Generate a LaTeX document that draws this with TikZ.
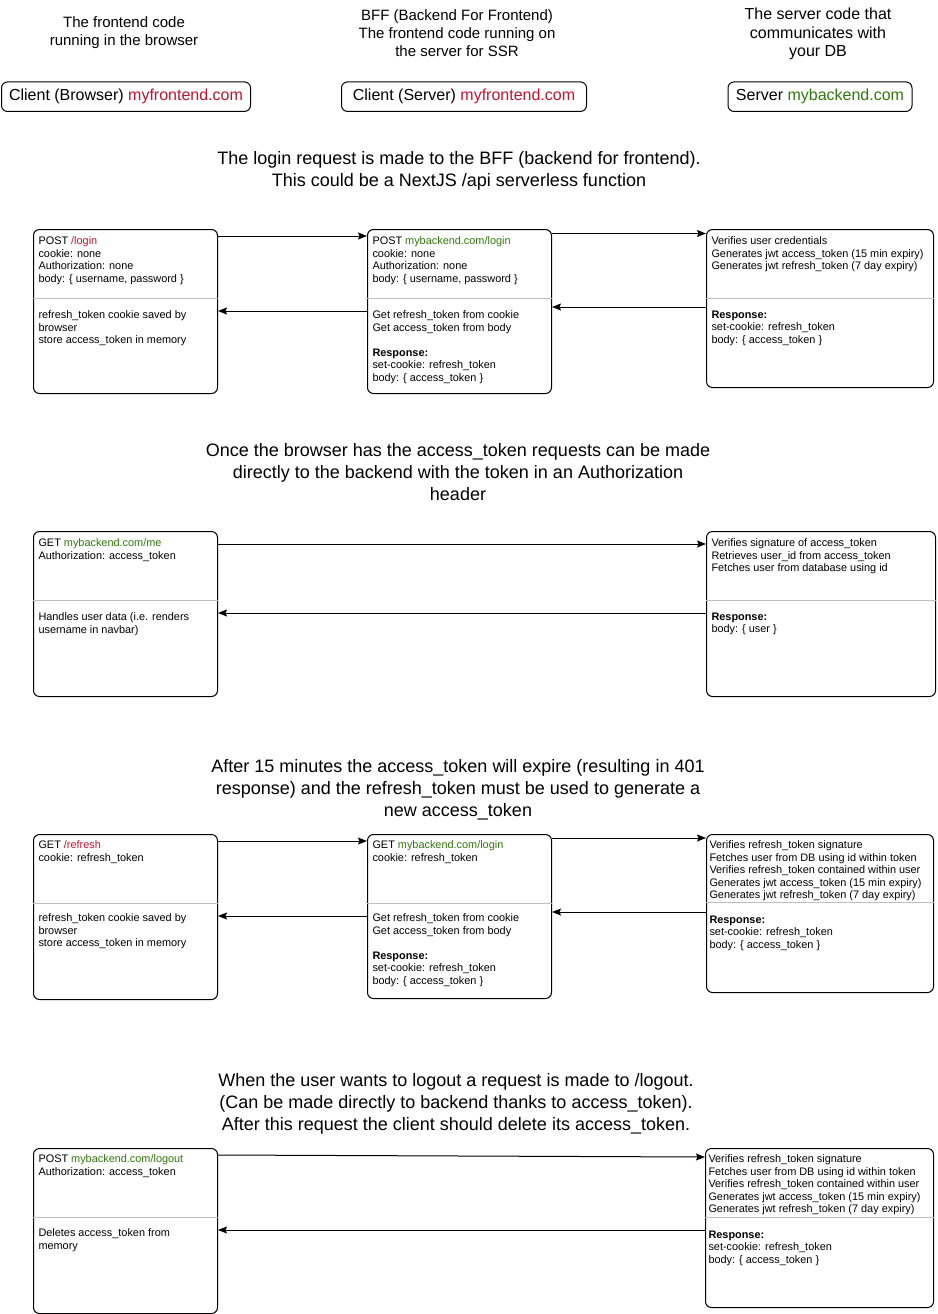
\documentclass[tikz,border=0pt]{standalone}
\usepackage{fontspec}
\setmainfont{Liberation Sans}
\usetikzlibrary{arrows.meta,positioning}
\definecolor{frontred}{HTML}{C4122E}
\definecolor{backgreen}{HTML}{2F7A0A}
\newcommand{\fe}[1]{\textcolor{frontred}{#1}}
\newcommand{\be}[1]{\textcolor{backgreen}{#1}}

\begin{document}
\begin{tikzpicture}[x=1pt,y=-1pt,line width=1pt,
    note/.style={align=center,font=\fontsize{15}{18}\selectfont},
    tag/.style={draw,rounded corners=6pt,minimum height=29.5pt,inner sep=0pt,font=\fontsize{16}{19}\selectfont},
    caption/.style={align=center,font=\fontsize{18}{22}\selectfont},
    card/.style={draw,rounded corners=6pt,anchor=north west,inner sep=0pt},
    body/.style={anchor=north west,align=left,inner sep=0pt,font=\fontsize{10.9}{12.6}\selectfont},
    split/.style={draw=black!25},
    flow/.style={-{Stealth[length=9pt,width=7pt,inset=1.5pt]}}
  ]
  \useasboundingbox (0,0) rectangle (937,1314);

  % column headers
  \node[note] (browserNote) at (124,32.5) {The frontend code\\running in the browser};
  \node[note] (bffNote) at (457,33) {BFF (Backend For Frontend)\\The frontend code running on\\the server for SSR};
  \node[note,font=\fontsize{16}{18.5}\selectfont] (serverNote) at (818,34) {The server code that\\communicates with\\your DB};
  \node[tag,minimum width=249pt] (browserTag) at (126,96.7) {Client (Browser) \fe{myfrontend.com}};
  \node[tag,minimum width=245pt] (bffTag) at (464,96.7) {Client (Server) \fe{myfrontend.com}};
  \node[tag,minimum width=184pt] (serverTag) at (820,96.7) {Server \be{mybackend.com}};

  % login
  \node[caption] (loginText) at (459,171) {The login request is made to the BFF (backend for frontend).\\This could be a NextJS /api serverless function};
  \node[card,minimum width=184pt,minimum height=164pt] (loginClient) at (33,229) {};
  \node[card,minimum width=184pt,minimum height=164pt] (loginBff) at (367,229) {};
  \node[card,minimum width=227pt,minimum height=158pt] (loginServer) at (706,229) {};
  \node[body] (loginClientReq) at ([xshift=5pt,yshift=-7pt]loginClient.north west)
    {POST \fe{/login}\\cookie: none\\Authorization: none\\body: \{ username, password \}};
  \node[body] (loginClientRes) at ([xshift=5pt,yshift=-81pt]loginClient.north west)
    {refresh\_token cookie saved by\\browser\\store access\_token in memory};
  \node[body] (loginBffReq) at ([xshift=5pt,yshift=-7pt]loginBff.north west)
    {POST \be{mybackend.com/login}\\cookie: none\\Authorization: none\\body: \{ username, password \}};
  \node[body] (loginBffRes) at ([xshift=5pt,yshift=-81pt]loginBff.north west)
    {Get refresh\_token from cookie\\Get access\_token from body\\[12.6pt]\textbf{Response:}\\set-cookie: refresh\_token\\body: \{ access\_token \}};
  \node[body] (loginServerReq) at ([xshift=5pt,yshift=-7pt]loginServer.north west)
    {Verifies user credentials\\Generates jwt access\_token (15 min expiry)\\Generates jwt refresh\_token (7 day expiry)};
  \node[body] (loginServerRes) at ([xshift=5pt,yshift=-81pt]loginServer.north west)
    {\textbf{Response:}\\set-cookie: refresh\_token\\body: \{ access\_token \}};
  \draw[flow] ([yshift=-7pt]loginClient.north east) -- ([yshift=-7pt]loginBff.north west);
  \draw[flow] ([yshift=-4.5pt]loginBff.north east) -- ([yshift=-4.5pt]loginServer.north west);
  \draw[flow] ([yshift=-78pt]loginServer.north west) -- ([yshift=-78pt]loginBff.north east);
  \draw[flow] ([yshift=-82pt]loginBff.north west) -- ([yshift=-82pt]loginClient.north east);

  % me
  \node[caption] (meText) at (458,472) {Once the browser has the access\_token requests can be made\\directly to the backend with the token in an Authorization\\header};
  \node[card,minimum width=184pt,minimum height=165pt] (meClient) at (33,531) {};
  \node[card,minimum width=229pt,minimum height=165pt] (meServer) at (706,531) {};
  \node[body] (meClientReq) at ([xshift=5pt,yshift=-7pt]meClient.north west)
    {GET \be{mybackend.com/me}\\Authorization: access\_token};
  \node[body] (meClientRes) at ([xshift=5pt,yshift=-81pt]meClient.north west)
    {Handles user data (i.e. renders\\username in navbar)};
  \node[body] (meServerReq) at ([xshift=5pt,yshift=-7pt]meServer.north west)
    {Verifies signature of access\_token\\Retrieves user\_id from access\_token\\Fetches user from database using id};
  \node[body] (meServerRes) at ([xshift=5pt,yshift=-81pt]meServer.north west)
    {\textbf{Response:}\\body: \{ user \}};
  \draw[flow] ([yshift=-13pt]meClient.north east) -- ([yshift=-13pt]meServer.north west);
  \draw[flow] ([yshift=-82pt]meServer.north west) -- ([yshift=-82pt]meClient.north east);

  % refresh
  \node[caption] (refreshText) at (458,789.5) {After 15 minutes the access\_token will expire (resulting in 401\\response) and the refresh\_token must be used to generate a\\new access\_token};
  \node[card,minimum width=184pt,minimum height=165pt] (refClient) at (33,834) {};
  \node[card,minimum width=184pt,minimum height=164pt] (refBff) at (367,834) {};
  \node[card,minimum width=227pt,minimum height=158pt] (refServer) at (706,834) {};
  \node[body] (refClientReq) at ([xshift=5pt,yshift=-6pt]refClient.north west)
    {GET \fe{/refresh}\\cookie: refresh\_token};
  \node[body] (refClientRes) at ([xshift=5pt,yshift=-79pt]refClient.north west)
    {refresh\_token cookie saved by\\browser\\store access\_token in memory};
  \node[body] (refBffReq) at ([xshift=5pt,yshift=-6pt]refBff.north west)
    {GET \be{mybackend.com/login}\\cookie: refresh\_token};
  \node[body] (refBffRes) at ([xshift=5pt,yshift=-79pt]refBff.north west)
    {Get refresh\_token from cookie\\Get access\_token from body\\[12.6pt]\textbf{Response:}\\set-cookie: refresh\_token\\body: \{ access\_token \}};
  \node[body] (refServerReq) at ([xshift=3pt,yshift=-6pt]refServer.north west)
    {Verifies refresh\_token signature\\Fetches user from DB using id within token\\Verifies refresh\_token contained within user\\Generates jwt access\_token (15 min expiry)\\Generates jwt refresh\_token (7 day expiry)};
  \node[body] (refServerRes) at ([xshift=3pt,yshift=-81pt]refServer.north west)
    {\textbf{Response:}\\set-cookie: refresh\_token\\body: \{ access\_token \}};
  \draw[flow] ([yshift=-7pt]refClient.north east) -- ([yshift=-7pt]refBff.north west);
  \draw[flow] ([yshift=-4pt]refBff.north east) -- ([yshift=-4pt]refServer.north west);
  \draw[flow] ([yshift=-78pt]refServer.north west) -- ([yshift=-78pt]refBff.north east);
  \draw[flow] ([yshift=-82pt]refBff.north west) -- ([yshift=-82pt]refClient.north east);

  % logout
  \node[caption] (logoutText) at (456,1104) {When the user wants to logout a request is made to /logout.\\(Can be made directly to backend thanks to access\_token).\\After this request the client should delete its access\_token.};
  \node[card,minimum width=184pt,minimum height=165pt] (outClient) at (33,1148) {};
  \node[card,minimum width=228pt,minimum height=159pt] (outServer) at (705,1148) {};
  \node[body] (outClientReq) at ([xshift=5pt,yshift=-6pt]outClient.north west)
    {POST \be{mybackend.com/logout}\\Authorization: access\_token};
  \node[body] (outClientRes) at ([xshift=5pt,yshift=-80pt]outClient.north west)
    {Deletes access\_token from\\memory};
  \node[body] (outServerReq) at ([xshift=3pt,yshift=-6pt]outServer.north west)
    {Verifies refresh\_token signature\\Fetches user from DB using id within token\\Verifies refresh\_token contained within user\\Generates jwt access\_token (15 min expiry)\\Generates jwt refresh\_token (7 day expiry)};
  \node[body] (outServerRes) at ([xshift=3pt,yshift=-82pt]outServer.north west)
    {\textbf{Response:}\\set-cookie: refresh\_token\\body: \{ access\_token \}};
  \draw[flow] ([yshift=-7pt]outClient.north east) -- ([yshift=-9pt]outServer.north west);
  \draw[flow] ([yshift=-82pt]outServer.north west) -- ([yshift=-82pt]outClient.north east);

  % dividers
  \foreach \card/\cut in {loginClient/69,loginBff/69,loginServer/69,meClient/69,meServer/69,
      refClient/69,refBff/69,refServer/68,outClient/69,outServer/69}
    \draw[split] ([yshift=-\cut pt]\card.north west) -- ([yshift=-\cut pt]\card.north east);
\end{tikzpicture}
\end{document}
